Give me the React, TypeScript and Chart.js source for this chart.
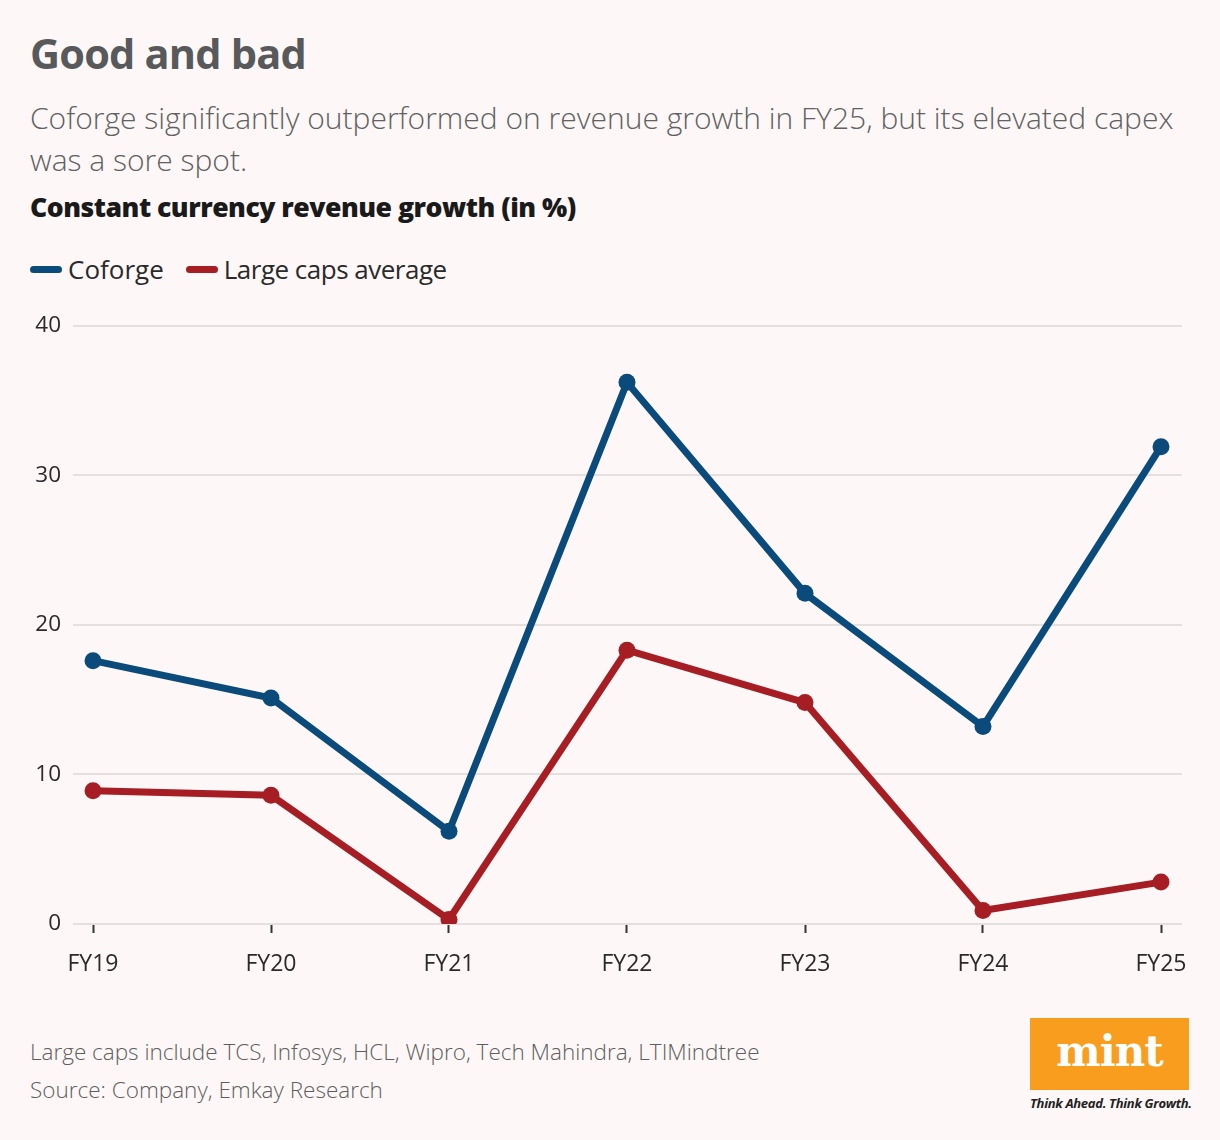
import React, { useEffect, useRef } from "react";
import { Chart, registerables } from "chart.js";

Chart.register(...registerables);

const categories = ["FY19", "FY20", "FY21", "FY22", "FY23", "FY24", "FY25"];
const coforge = [17.6, 15.1, 6.2, 36.2, 22.1, 13.2, 31.9];
const largeCaps = [8.9, 8.6, 0.3, 18.3, 14.8, 0.9, 2.8];
const yTicks = [0, 10, 20, 30, 40];

const BLUE = "#0B4B7C";
const RED = "#A61E23";
const BG = "#FDF8F7";
const FONT = "'Open Sans', 'Noto Sans', sans-serif";

export default function App() {
  const ref = useRef<HTMLCanvasElement | null>(null);

  useEffect(() => {
    if (!ref.current) return;
    const toPts = (arr: number[]) => arr.map((v, i) => ({ x: i, y: v }));
    const chart = new Chart(ref.current, {
      type: "line",
      data: {
        datasets: [
          {
            label: "Coforge",
            data: toPts(coforge),
            borderColor: BLUE,
            backgroundColor: BLUE,
            borderWidth: 7,
            pointRadius: 8.5,
            pointBorderWidth: 0,
            pointBackgroundColor: BLUE,
            tension: 0,
          },
          {
            label: "Large caps average",
            data: toPts(largeCaps),
            borderColor: RED,
            backgroundColor: RED,
            borderWidth: 7,
            pointRadius: 8.5,
            pointBorderWidth: 0,
            pointBackgroundColor: RED,
            tension: 0,
          },
        ],
      },
      options: {
        animation: false,
        responsive: false,
        maintainAspectRatio: false,
        layout: { padding: { top: 0, right: 38, bottom: 0, left: 0 } },
        plugins: { legend: { display: false }, tooltip: { enabled: false } },
        scales: {
          x: {
            type: "linear",
            min: -20 / 178,
            max: 6 + 21 / 178,
            afterBuildTicks: (axis: any) => {
              axis.ticks = categories.map((_, i) => ({ value: i }));
            },
            afterFit: (axis: any) => {
              axis.height = 76;
            },
            ticks: {
              callback: (v: any) => categories[Number(v)] ?? "",
              color: "#2a2a2a",
              font: { family: FONT, size: 23 },
              padding: 18,
              maxRotation: 0,
              autoSkip: false,
            },
            grid: {
              drawOnChartArea: false,
              drawTicks: true,
              tickLength: 9,
              tickWidth: 2,
              tickColor: "#333",
              color: "#333",
            },
            border: { display: false },
          },
          y: {
            min: 0,
            max: 40,
            afterBuildTicks: (axis: any) => {
              axis.ticks = yTicks.map((v) => ({ value: v }));
            },
            afterFit: (axis: any) => {
              axis.width = 73;
            },
            ticks: {
              color: "#2a2a2a",
              font: { family: FONT, size: 22.5 },
              padding: 12,
            },
            grid: {
              color: "#E3E0DF",
              lineWidth: 2,
              drawTicks: false,
            },
            border: { display: false },
          },
        },
      },
    });
    return () => chart.destroy();
  }, []);

  const txt: React.CSSProperties = { position: "absolute", margin: 0, fontFamily: FONT, whiteSpace: "nowrap" };

  return (
    <div
      style={{
        position: "absolute",
        left: 0,
        top: 0,
        width: 1220,
        height: 1140,
        background: BG,
        overflow: "hidden",
      }}
    >
      <div style={{ ...txt, left: 30, top: 25, fontSize: 41.5, fontWeight: 700, color: "#58595B", letterSpacing: -0.8 }}>
        Good and bad
      </div>
      <div style={{ ...txt, left: 30, top: 97, fontSize: 30, fontWeight: 300, color: "#616161", lineHeight: "42px" }}>
        Coforge significantly outperformed on revenue growth in FY25, but its elevated capex
        <br />
        was a sore spot.
      </div>
      <div style={{ ...txt, left: 30, top: 189, fontSize: 26.6, fontWeight: 800, color: "#1A1A1A", letterSpacing: -0.5 }}>
        Constant currency revenue growth (in %)
      </div>
      <div style={{ ...txt, left: 30, top: 250, fontSize: 26, color: "#2a2a2a", display: "flex", alignItems: "center", lineHeight: "38px" }}>
        <span style={{ display: "inline-block", width: 32, height: 7, borderRadius: 4, background: BLUE, marginRight: 6 }} />
        <span style={{ marginRight: 22, fontWeight: 400 }}>Coforge</span>
        <span style={{ display: "inline-block", width: 32, height: 7, borderRadius: 4, background: RED, marginRight: 6 }} />
        <span style={{ letterSpacing: -0.5 }}>Large caps average</span>
      </div>
      <canvas ref={ref} width={1220} height={700} style={{ position: "absolute", left: 0, top: 300, width: 1220, height: 700 }} />
      <div style={{ ...txt, left: 30, top: 1037, fontSize: 22.5, fontWeight: 300, color: "#5E5E5E", lineHeight: "30px" }}>
        Large caps include TCS, Infosys, HCL, Wipro, Tech Mahindra, LTIMindtree
      </div>
      <div style={{ ...txt, left: 30, top: 1075, fontSize: 22.5, fontWeight: 300, color: "#5E5E5E", lineHeight: "30px" }}>
        Source: Company, Emkay Research
      </div>
      <div
        style={{
          position: "absolute",
          left: 1030,
          top: 1018,
          width: 159,
          height: 72,
          background: "#F89D1E",
          display: "flex",
          alignItems: "center",
          justifyContent: "center",
        }}
      >
        <span style={{ fontFamily: "'DejaVu Serif', serif", fontWeight: 700, fontSize: 42, color: "#fff", letterSpacing: -1, lineHeight: 1, marginTop: -4 }}>
          mint
        </span>
      </div>
      <div style={{ ...txt, left: 1030, top: 1094, fontSize: 13, fontWeight: 700, fontStyle: "italic", color: "#222", letterSpacing: -0.3 }}>
        Think Ahead. Think Growth.
      </div>
    </div>
  );
}
